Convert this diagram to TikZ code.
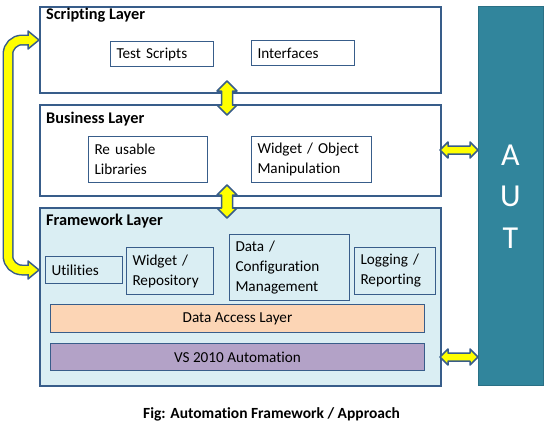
\documentclass[tikz,border=0pt]{standalone}
\usepackage{fontspec}
\setmainfont[Ligatures=NoCommon]{Carlito}
\usetikzlibrary{calc}
\definecolor{bord}{HTML}{385D8A}
\definecolor{fwfill}{HTML}{DAEEF3}
\definecolor{dalfill}{HTML}{FCD5B5}
\definecolor{vsfill}{HTML}{B3A2C7}
\definecolor{autfill}{HTML}{31859C}
\definecolor{autbord}{HTML}{2A7085}
\definecolor{yel}{HTML}{FFFF00}
\tikzset{
  layer/.style={draw=bord, line width=2pt, anchor=north west, inner sep=0pt},
  ltitle/.style={anchor=base west, inner sep=0pt, font=\fontsize{16.3}{19}\selectfont\bfseries},
  box/.style={draw=bord, line width=1pt, anchor=north west, inner xsep=6pt, inner ysep=0pt,
    align=left, font=\fontsize{15.2}{20}\selectfont},
  bar/.style={draw=bord, line width=1pt, anchor=north west, inner sep=0pt,
    font=\fontsize{15.2}{18}\selectfont},
  arrowst/.style={draw=bord, fill=yel, line width=1.5pt, line join=round},
}
\newcommand\vdarr[3]{%
  \draw[arrowst] (#1,#2) -- ++(10,10) -- ++(-4.5,0) -- (#1+5.5,#3-10) -- ++(4.5,0)
   -- (#1,#3) -- ++(-10,-10) -- ++(4.5,0) -- (#1-5.5,#2+10) -- ++(-4.5,0) -- cycle;}
\newcommand\hdarr[3]{%
  \draw[arrowst] (#1,#3) -- ++(8,-8) -- ++(0,4) -- (#2-8,#3-4) -- ++(0,-4)
   -- (#2,#3) -- ++(-8,8) -- ++(0,-4) -- (#1+8,#3+4) -- ++(0,4) -- cycle;}
\begin{document}
\begin{tikzpicture}[x=1pt,y=-1pt]
\useasboundingbox (0,0) rectangle (555,426);
% layers
\node[layer, minimum width=401pt, minimum height=86pt] (scr) at (39,6) {};
\node[layer, minimum width=401pt, minimum height=91pt] (bus) at (39,104) {};
\node[layer, fill=fwfill, minimum width=401pt, minimum height=178pt] (fw) at (39,207) {};
\node[ltitle] (scrt) at (46,19.5) {Scripting Layer};
\node[ltitle] (bust) at (46,123) {Business Layer};
\node[ltitle] (fwt) at (46,225) {Framework Layer};
% AUT
\node[draw=autbord, line width=1pt, fill=autfill, anchor=north west, minimum width=65pt,
  minimum height=379pt, inner sep=0pt] (aut) at (478,6) {};
\foreach \l/\yy in {A/155,U/196,T/238}
  \node[text=white, font=\fontsize{32}{34}\selectfont] (aut\l) at (510.5,\yy) {\l};
% scripting
\node[box, text width=91pt, minimum height=25pt] (ts) at (110,41) {Test Scripts};
\node[box, text width=91pt, minimum height=25pt] (itf) at (251,40) {Interfaces};
% business
\node[box, text width=107pt, minimum height=46pt] (rul) at (88,136) {Re usable\\Libraries};
\node[box, text width=108pt, minimum height=46pt] (wom) at (251,136) {Widget / Object\\Manipulation};
% framework
\node[box, text width=65pt, minimum height=27pt] (util) at (45,256) {Utilities};
\node[box, text width=75pt, minimum height=47pt] (wr) at (126,247) {Widget /\\Repository};
\node[box, text width=108pt, minimum height=66pt] (dcm) at (229,234) {Data /\\Configuration\\Management};
\node[box, text width=69pt, minimum height=47pt] (lr) at (354,247) {Logging /\\Reporting};
\node[bar, fill=dalfill, minimum width=374pt, minimum height=28pt] (dal) at (50,304) {Data Access Layer};
\node[bar, fill=vsfill, minimum width=374pt, minimum height=27pt] (vs) at (50,343) {VS 2010 Automation};
% caption
\node[anchor=base, inner sep=0pt, font=\fontsize{15.5}{18}\selectfont\bfseries] (cap) at (271.5,418)
  {Fig: Automation Framework / Approach};
% double arrows
\vdarr{227}{81}{115}
\vdarr{227}{185}{218}
\hdarr{440}{478}{150}
\hdarr{440}{478}{357}
% curved arrow
\coordinate (t1) at ($(scr.north west)+(0,34)$);
\coordinate (t2) at (util.west -| fw.west);
\draw[line width=11pt, draw=bord, rounded corners=14pt] ($(t1)+(-11,0)$) -- ($(t1)+(-31,0)$) |- ($(t2)+(-11,0)$);
\draw[line width=8pt, draw=yel, rounded corners=14pt] ($(t1)+(-11,0)$) -- ($(t1)+(-31,0)$) |- ($(t2)+(-11,0)$);
\draw[arrowst] (t1) -- ++(-11,-9) -- ++(0,18) -- cycle;
\draw[arrowst] (t2) -- ++(-11,-9) -- ++(0,18) -- cycle;
\draw[line width=8pt, draw=yel] ($(t1)+(-12.5,0)$) -- ($(t1)+(-9.5,0)$);
\draw[line width=8pt, draw=yel] ($(t2)+(-12.5,0)$) -- ($(t2)+(-9.5,0)$);
\end{tikzpicture}
\end{document}
